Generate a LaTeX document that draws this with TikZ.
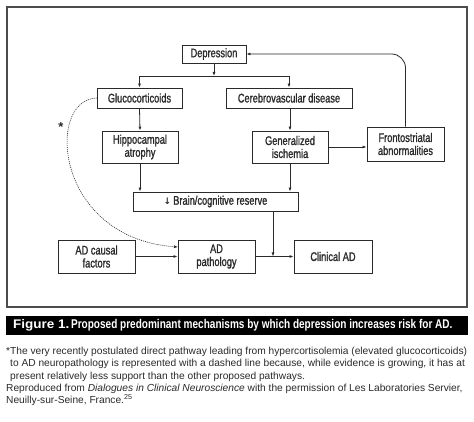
\documentclass[tikz,border=0pt]{standalone}
\usepackage{fontspec}
\setmainfont{Liberation Sans}
\newfontfamily\boxfont[FakeStretch=0.74,FakeBold=1.2]{Liberation Sans}
\newfontfamily\capfont[FakeStretch=0.79]{Liberation Sans}
\newfontfamily\figfont[FakeStretch=1.08]{Liberation Sans}
\newfontfamily\notefont[FakeStretch=1.0]{Liberation Sans}
\usetikzlibrary{arrows.meta}
\definecolor{ink}{HTML}{2A2A2A}
\tikzset{
  bx/.style={draw=ink, line width=0.8pt, fill=white, align=center, inner sep=1pt,
    font=\boxfont\fontsize{12.5}{13}\selectfont, text=ink},
  arr/.style={draw=ink, line width=0.8pt, -{Latex[length=4pt,width=3pt]}},
  note/.style={anchor=west, inner sep=0pt, font=\notefont\fontsize{10.2}{11}\selectfont, text=ink}
}
\begin{document}
\begin{tikzpicture}[x=1pt,y=-1pt]
\useasboundingbox (0,0) rectangle (474,422);
\fill[white] (0,0) rectangle (474,422);
\draw[draw=black!70, line width=1.2pt] (7,7) rectangle (467,307);
% nodes
\node[bx, minimum width=64pt, minimum height=18pt] (dep) at (214,54) {Depression};
\node[bx, minimum width=85pt, minimum height=20pt] (glu) at (139.5,98) {Glucocorticoids};
\node[bx, minimum width=126pt, minimum height=20pt] (cer) at (289,98) {Cerebrovascular disease};
\node[bx, minimum width=76pt, minimum height=32pt] (hip) at (140,147) {Hippocampal\\atrophy};
\node[bx, minimum width=76pt, minimum height=32pt] (gen) at (290,147) {Generalized\\ischemia};
\node[bx, minimum width=77pt, minimum height=34pt] (fro) at (405.5,144) {Frontostriatal\\abnormalities};
\node[bx, minimum width=165pt, minimum height=19pt] (brn) at (215.5,201.5) {{\fontspec{DejaVu Sans}\fontsize{9}{9}\selectfont\textbf{↓}}\,Brain/cognitive reserve};
\node[bx, minimum width=77pt, minimum height=33pt] (adc) at (96.5,256.5) {AD causal\\factors};
\node[bx, minimum width=77pt, minimum height=33pt] (adp) at (216.5,256.5) {AD\\pathology};
\node[bx, minimum width=78pt, minimum height=33pt] (cli) at (333,256.5) {Clinical AD};
% connectors
\coordinate (j) at (214,76);
\draw[arr] (dep.south) -- (j);
\draw[arr] (j) -| (glu.north);
\draw[arr] (j) -| (cer.north);
\draw[arr] (glu.south) -- (hip.north);
\draw[arr] (cer.south -| gen.north) -- (gen.north);
\draw[arr] (hip.south) -- (hip.south |- brn.north);
\draw[arr] (gen.south) -- (gen.south |- brn.north);
\draw[arr] (gen.east) -- (fro.west |- gen.east);
\draw[arr, rounded corners=14pt] (fro.north) |- (dep.east);
\coordinate (k) at (273,256.5);
\draw[arr] (brn.south -| k) -- (k);
\draw[arr] (adp.east) -- (cli.west);
\draw[arr] (adc.east) -- (adp.west);
\coordinate (dend) at (178,247);
\draw[draw=ink, line width=0.6pt, dash pattern=on 1pt off 1pt, -{Latex[length=4pt,width=3pt]}]
  (glu.west) .. controls (45,100) and (55,238) .. (dend);
\node[font=\fontsize{13}{13}\selectfont\bfseries, text=ink, inner sep=0pt] (ast) at (61,127) {*};
% caption
\fill[black] (6,316) rectangle (468,335);
\node[anchor=west, inner sep=0pt, text=white] (cap) at (13,325.5)
  {{\figfont\fontsize{12.5}{12}\selectfont\bfseries Figure 1.}\,{\capfont\fontsize{12.7}{12}\selectfont\bfseries Proposed predominant mechanisms by which depression increases risk for AD.}};
% footnote
\node[note] (n1) at (6,352) {*The very recently postulated direct pathway leading from hypercortisolemia (elevated glucocorticoids)};
\node[note] (n2) at (10,364) {to AD neuropathology is represented with a dashed line because, while evidence is growing, it has at};
\node[note] (n3) at (10,377) {present relatively less support than the other proposed pathways.};
\node[note] (n4) at (6,389) {Reproduced from \textit{Dialogues in Clinical Neuroscience} with the permission of Les Laboratories Servier,};
\node[note] (n5) at (6,400) {Neuilly-sur-Seine, France.\textsuperscript{25}};
\end{tikzpicture}
\end{document}
